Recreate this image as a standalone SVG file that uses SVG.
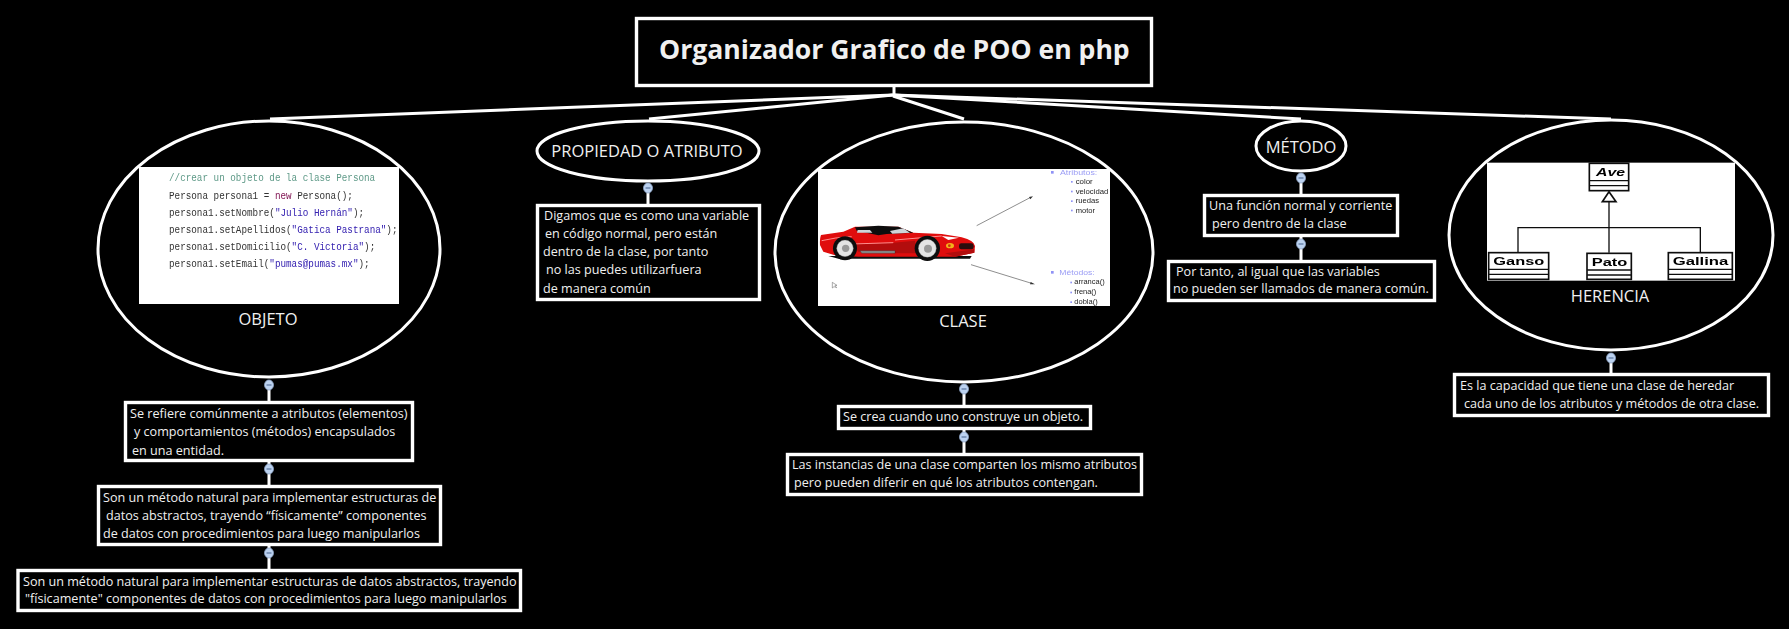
<svg xmlns="http://www.w3.org/2000/svg" width="1789" height="629" viewBox="0 0 1789 629">
<style>
text{font-family:"Open Sans","Noto Sans","Liberation Sans",sans-serif;fill:#f0f0f0;white-space:pre}
.b{fill:#000;stroke:#fff;stroke-width:3.4}
.o{fill:#000;stroke:#fff;stroke-width:3}
.t{font-size:12.6px}
.l{font-size:16.5px;text-anchor:middle}
.c{stroke:#fff;stroke-width:3;fill:none}
.k{fill:#bcd2f0;stroke:#8fa6c8;stroke-width:.8}
.m{stroke:#44608c;stroke-width:1}
.im{fill:#fff}
.code{font-family:"Liberation Mono",monospace;font-size:11.2px;fill:#333}
.s{fill:#3420b0}
.sm{font-family:"Liberation Sans",sans-serif;font-size:21px;fill:#222}
.bl{font-family:"Liberation Sans",sans-serif;font-size:21px;fill:#9a9cf5}
.u{font-family:"Liberation Sans",sans-serif;font-size:35px;font-weight:bold;fill:#000}
.w{stroke:#111;stroke-width:5;fill:#fff}
.d{stroke:#111;stroke-width:4;fill:none}
</style>
<defs>
<filter id="soft" x="0" y="0" width="1" height="1"><feGaussianBlur stdDeviation="0.35"/></filter>
<g id="knob"><ellipse class="k" cx="0" cy="0" rx="4.5" ry="5"/><line class="m" x1="-2.500" y1="0" x2="2.500" y2="0"/></g>
</defs>
<rect width="1789" height="629" fill="#000"/>
<g id="connectors">
<path class="c" d="M894 86V96"/>
<path class="c" d="M893 95L270 119"/>
<path class="c" d="M893 95L649 119"/>
<path class="c" d="M893 96L964 119"/>
<path class="c" d="M893 95L1301 119"/>
<path class="c" d="M893 95L1611 119"/>
<path class="c" d="M269 388V401M269 462V485M269 546V569"/>
<path class="c" d="M648 190V204"/>
<path class="c" d="M964 391V405M964 430V453"/>
<path class="c" d="M1301 180V194M1301 237V260"/>
<path class="c" d="M1611 360V373"/>
</g>
<g id="title">
<rect class="b" x="636.500" y="18.500" width="515" height="67"/>
<text x="659" y="59" font-size="26.600" font-weight="700">Organizador Grafico de POO en php</text>
</g>
<g id="objeto">
<ellipse class="o" cx="269" cy="249" rx="171" ry="128"/>
<g filter="url(#soft)">
<rect class="im" x="139" y="167" width="260" height="137"/>
<g transform="translate(169 0) scale(.83 1)">
<text class="code" x="0" y="181" style="fill:#5f9a88">//crear un objeto de la clase Persona</text>
<text class="code" x="0" y="199">Persona persona1 = <tspan style="fill:#7f1050">new</tspan> Persona();</text>
<text class="code" x="0" y="216">persona1.setNombre(<tspan class="s">"Julio Hernán"</tspan>);</text>
<text class="code" x="0" y="233">persona1.setApellidos(<tspan class="s">"Gatica Pastrana"</tspan>);</text>
<text class="code" x="0" y="250">persona1.setDomicilio(<tspan class="s">"C. Victoria"</tspan>);</text>
<text class="code" x="0" y="267">persona1.setEmail(<tspan class="s">"pumas@pumas.mx"</tspan>);</text>
</g>
</g>
<text class="l" x="268" y="325">OBJETO</text>
<use href="#knob" x="269" y="385"/>
</g>
<g id="objeto-1">
<rect class="b" x="125.500" y="402.500" width="287" height="58"/>
<text class="t" x="130" y="418">Se refiere comúnmente a atributos (elementos)</text>
<text class="t" x="134" y="436">y comportamientos (métodos) encapsulados</text>
<text class="t" x="132" y="455">en una entidad.</text>
<use href="#knob" x="269" y="469"/>
</g>
<g id="objeto-2">
<rect class="b" x="98.500" y="486.500" width="342" height="58"/>
<text class="t" x="103" y="502">Son un método natural para implementar estructuras de</text>
<text class="t" x="106" y="520">datos abstractos, trayendo “físicamente” componentes</text>
<text class="t" x="103" y="538">de datos con procedimientos para luego manipularlos</text>
<use href="#knob" x="269" y="553"/>
</g>
<g id="objeto-3">
<rect class="b" x="18" y="570.500" width="502.500" height="40"/>
<text class="t" x="23" y="586">Son un método natural para implementar estructuras de datos abstractos, trayendo</text>
<text class="t" x="25" y="603">"físicamente" componentes de datos con procedimientos para luego manipularlos</text>
</g>
<g id="propiedad">
<ellipse class="o" cx="648" cy="151" rx="111" ry="30"/>
<text class="l" x="647" y="157">PROPIEDAD O ATRIBUTO</text>
<use href="#knob" x="648" y="188"/>
</g>
<g id="propiedad-1">
<rect class="b" x="537.500" y="205.500" width="222" height="94"/>
<text class="t" x="544" y="220">Digamos que es como una variable</text>
<text class="t" x="545" y="238">en código normal, pero están</text>
<text class="t" x="543" y="256">dentro de la clase, por tanto</text>
<text class="t" x="546" y="274">no las puedes utilizarfuera</text>
<text class="t" x="543" y="293">de manera común</text>
</g>
<g id="clase">
<ellipse class="o" cx="964" cy="252" rx="189" ry="130"/>
<g filter="url(#soft)">
<rect class="im" x="818" y="169" width="292" height="137"/>
<g transform="translate(815 220) scale(.33333)">
<path fill="#111" d="M40 108H470L465 116H70Z"/>
<path fill="#e00c0c" d="M15 75Q14 55 18 45L85 35L120 20H250L295 38L380 42L440 52Q478 62 480 78L478 98L420 110H130L60 106L25 95Z"/>
<path fill="#111" d="M120 22L190 17L250 20L295 38L215 42L190 46L125 32Z"/>
<path fill="#cfd4d8" d="M128 30H165L172 38H126ZM225 33L265 25L285 38L232 41Z"/>
<path fill="#b20808" d="M110 72L235 68V98L130 95ZM235 68L300 62L305 100L235 100ZM390 100L478 88V98L420 110Z"/>
<path fill="none" stroke="#ff8f8f" stroke-width="3" d="M20 62Q60 52 110 50M112 72L235 68M240 60L380 48"/>
<path fill="#888" stroke="#333" d="M135 92H240V100H140Z"/>
<g fill="#0c0c0c"><circle cx="90" cy="85" r="36"/><circle cx="337" cy="85" r="38"/></g>
<g fill="#e4e4e4" stroke="#666"><circle cx="90" cy="85" r="25"/><circle cx="337" cy="85" r="27"/></g>
<g fill="#999"><circle cx="92" cy="85" r="11"/><circle cx="339" cy="86" r="12"/></g>
<ellipse cx="405" cy="77" rx="12" ry="8" fill="#f3b21a"/><circle cx="403" cy="77" r="4" fill="#d03010"/>
<rect x="432" y="70" width="44" height="18" rx="7" fill="#2a1010"/>
<path fill="#fff" d="M380 48L432 53L400 60Z"/>
</g>
<g transform="translate(780 100) scale(.33333)">
<g stroke="#555" stroke-width="2"><line x1="590" y1="377" x2="752" y2="292"/><line x1="573" y1="494" x2="758" y2="551"/></g>
<path fill="#333" d="M759 289L747 291L751 298ZM765 553L752 546L750 553Z"/>
<path fill="#fff" stroke="#555" stroke-width="1.500" d="M157 547V564L162 560L170 563L165 557L171 556Z"/>
<g fill="#8f92f5"><rect x="813" y="213" width="8" height="8"/><rect x="813" y="513" width="8" height="8"/>
<rect x="873" y="243" width="5" height="5"/><rect x="873" y="272" width="5" height="5"/><rect x="873" y="301" width="5" height="5"/><rect x="873" y="329" width="5" height="5"/>
<rect x="871" y="545" width="5" height="5"/><rect x="871" y="575" width="5" height="5"/><rect x="871" y="604" width="5" height="5"/></g>
<text class="bl" x="840" y="226" textLength="112" lengthAdjust="spacingAndGlyphs">Atributos:</text>
<text class="sm" x="887" y="252" textLength="51" lengthAdjust="spacingAndGlyphs">color</text>
<text class="sm" x="887" y="281" textLength="98" lengthAdjust="spacingAndGlyphs">velocidad</text>
<text class="sm" x="887" y="310" textLength="70" lengthAdjust="spacingAndGlyphs">ruedas</text>
<text class="sm" x="887" y="338" textLength="58" lengthAdjust="spacingAndGlyphs">motor</text>
<text class="bl" x="838" y="525" textLength="106" lengthAdjust="spacingAndGlyphs">Métodos:</text>
<text class="sm" x="883" y="553" textLength="91" lengthAdjust="spacingAndGlyphs">arranca()</text>
<text class="sm" x="883" y="583" textLength="66" lengthAdjust="spacingAndGlyphs">frena()</text>
<text class="sm" x="883" y="612" textLength="70" lengthAdjust="spacingAndGlyphs">dobla()</text>
</g>
</g>
<text class="l" x="963" y="327">CLASE</text>
<use href="#knob" x="964" y="389"/>
</g>
<g id="clase-1">
<rect class="b" x="838.500" y="406.500" width="252" height="22"/>
<text class="t" x="843" y="421">Se crea cuando uno construye un objeto.</text>
<use href="#knob" x="964" y="437"/>
</g>
<g id="clase-2">
<rect class="b" x="787.500" y="454.500" width="354" height="40"/>
<text class="t" x="792" y="469">Las instancias de una clase comparten los mismo atributos</text>
<text class="t" x="794" y="487">pero pueden diferir en qué los atributos contengan.</text>
</g>
<g id="metodo">
<ellipse class="o" cx="1301" cy="146" rx="45" ry="25"/>
<text class="l" x="1301" y="153">MÉTODO</text>
<use href="#knob" x="1301" y="178"/>
</g>
<g id="metodo-1">
<rect class="b" x="1204.500" y="195.500" width="193" height="40"/>
<text class="t" x="1209" y="210">Una función normal y corriente</text>
<text class="t" x="1212" y="228">pero dentro de la clase</text>
<use href="#knob" x="1301" y="244"/>
</g>
<g id="metodo-2">
<rect class="b" x="1168.500" y="261.500" width="266" height="39"/>
<text class="t" x="1176" y="276">Por tanto, al igual que las variables</text>
<text class="t" x="1173" y="293">no pueden ser llamados de manera común.</text>
</g>
<g id="herencia">
<ellipse class="o" cx="1611" cy="235" rx="162" ry="115"/>
<g transform="translate(1440 110) scale(.33333)" filter="url(#soft)">
<rect class="im" x="141" y="158" width="744" height="354"/>
<path class="d" d="M507 275V428M234 428V353H781V428"/>
<path class="w" d="M507 245L487 275H528Z"/>
<rect class="w" x="448" y="160" width="118" height="82"/><path class="d" d="M448 212H566M448 227H566"/>
<rect class="w" x="146" y="428" width="180" height="80"/><path class="d" d="M146 478H326M146 493H326"/>
<rect class="w" x="441" y="430" width="133" height="78"/><path class="d" d="M441 480H574M441 495H574"/>
<rect class="w" x="685" y="428" width="192" height="80"/><path class="d" d="M685 478H877M685 493H877"/>
<text class="u" x="468" y="199" style="font-style:italic" textLength="87" lengthAdjust="spacingAndGlyphs">Ave</text>
<text class="u" x="160" y="465" textLength="153" lengthAdjust="spacingAndGlyphs">Ganso</text>
<text class="u" x="455" y="467" textLength="107" lengthAdjust="spacingAndGlyphs">Pato</text>
<text class="u" x="698" y="464" textLength="167" lengthAdjust="spacingAndGlyphs">Gallina</text>
</g>
<text class="l" x="1610" y="302">HERENCIA</text>
<use href="#knob" x="1611" y="358"/>
</g>
<g id="herencia-1">
<rect class="b" x="1454.500" y="374.500" width="314" height="41"/>
<text class="t" x="1460" y="390">Es la capacidad que tiene una clase de heredar</text>
<text class="t" x="1464" y="408">cada uno de los atributos y métodos de otra clase.</text>
</g>
</svg>
